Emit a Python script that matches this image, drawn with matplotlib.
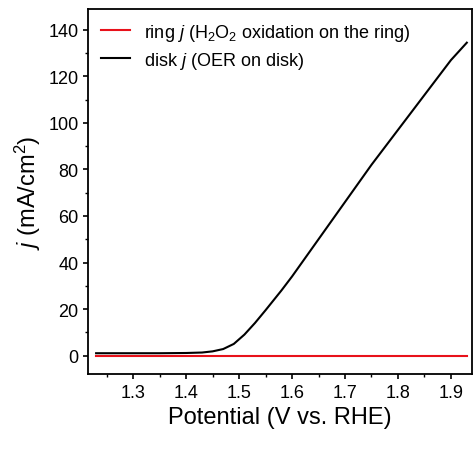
import matplotlib
matplotlib.use("Agg")
import matplotlib.pyplot as plt
from matplotlib.ticker import MultipleLocator

plt.rcParams['font.family'] = ['Liberation Sans', 'DejaVu Sans']
plt.rcParams['mathtext.fontset'] = 'custom'
plt.rcParams['mathtext.it'] = 'Liberation Sans:italic'
plt.rcParams['mathtext.rm'] = 'Liberation Sans'

potential = [1.23, 1.30, 1.35, 1.40, 1.43, 1.45, 1.47, 1.49, 1.51, 1.53, 1.55, 1.58, 1.60, 1.65, 1.70, 1.75, 1.80, 1.85, 1.90, 1.93]
disk_j =    [1.0, 1.0, 1.0, 1.1, 1.3, 1.8, 2.8, 5.0, 9.0, 14.0, 19.5, 28.0, 34.0, 50.0, 66.0, 82.0, 97.0, 112.0, 127.0, 134.5]
ring_j =    [0.0] * len(potential)

fig = plt.figure(figsize=(4.74, 4.52), dpi=100)
ax = fig.add_axes([0.186, 0.17, 0.81, 0.808])
ax.plot(potential, ring_j, color="#e8111a", lw=1.5, label=r"ring $j$ (H$_2$O$_2$ oxidation on the ring)")
ax.plot(potential, disk_j, color="black", lw=1.5, label=r"disk $j$ (OER on disk)")
ax.set_xlim(1.215, 1.94)
ax.set_ylim(-8, 149)
ax.xaxis.set_major_locator(MultipleLocator(0.1))
ax.xaxis.set_minor_locator(MultipleLocator(0.05))
ax.yaxis.set_major_locator(MultipleLocator(20))
ax.yaxis.set_minor_locator(MultipleLocator(10))
ax.tick_params(labelsize=13, width=1.2)
ax.tick_params(which="minor", width=1.0)
for s in ax.spines.values():
    s.set_linewidth(1.3)
ax.set_xlabel("Potential (V vs. RHE)", fontsize=17)
ax.set_ylabel(r"$j$ (mA/cm$^2$)", fontsize=17)
ax.legend(loc="upper left", frameon=False, fontsize=13, handlelength=1.6, borderaxespad=0.3, labelspacing=0.4)
fig.savefig("out.png", dpi=100)
